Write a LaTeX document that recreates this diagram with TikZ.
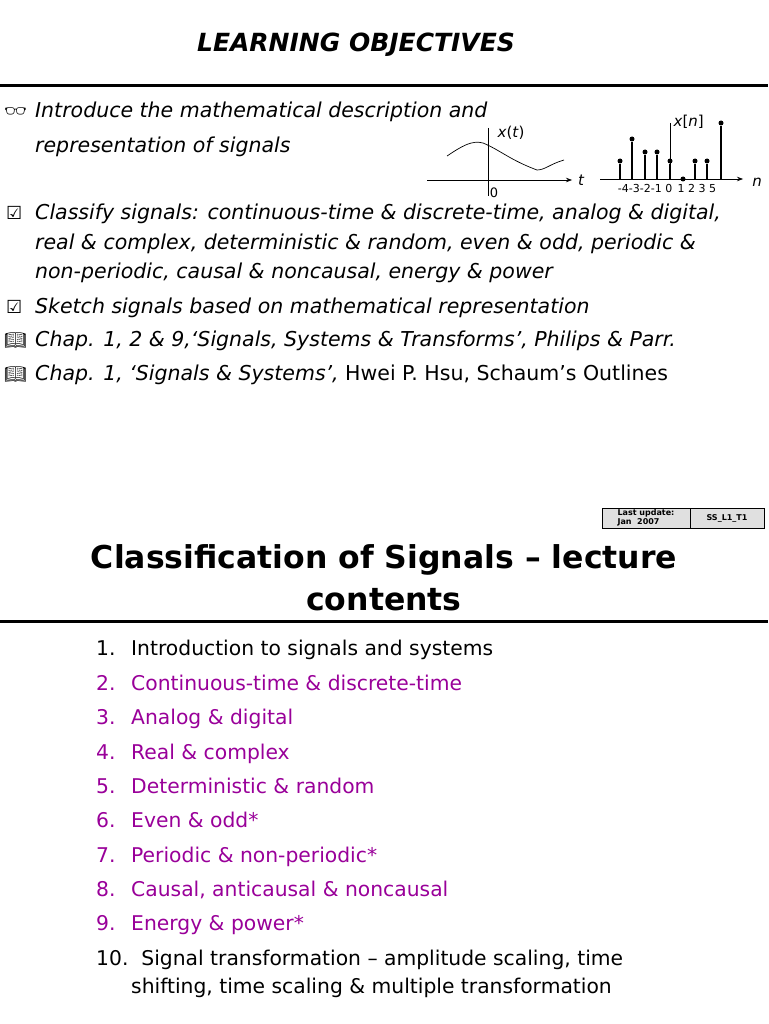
\documentclass[tikz,border=0pt]{standalone}
\usepackage{fontspec}
\setmainfont{DejaVu Sans}
\newfontfamily\emo{Noto Emoji}
\newfontfamily\djv{DejaVu Sans}
\usetikzlibrary{arrows.meta}
\definecolor{purp}{HTML}{990099}
\begin{document}
\begin{tikzpicture}[x=1pt,y=-1pt,
  txt/.style={anchor=base west,inner sep=0pt,font=\fontsize{20.5}{22}\selectfont\itshape},
  lst/.style={anchor=base west,inner sep=0pt,font=\fontsize{20.3}{22}\selectfont},
  ico/.style={anchor=base west,inner sep=0pt,font=\fontsize{18}{20}\selectfont},
  stem/.style={line width=1.6pt},
  dot/.style={circle,fill=black,inner sep=0pt,minimum size=5pt},
  ax/.style={line width=0.7pt,-{Stealth[length=6pt]}}]
\useasboundingbox (0,0) rectangle (768,1024);
\node[font=\fontsize{25}{28}\selectfont\bfseries\itshape] (t1) at (356,45) {LEARNING OBJECTIVES};
\draw[line width=3pt] (0,86) -- (768,86);
\node[ico] (i1) at (4,118) {\emo 👓};
\node[txt] (l1) at (35,118) {Introduce the mathematical description and};
\node[txt] (l2) at (35,153) {representation of signals};
\node[ico] (i2) at (6,220) {\djv ☑};
\node[txt] (l3) at (35,220) {Classify signals: continuous-time \& discrete-time, analog \& digital,};
\node[txt] (l4) at (35,249) {real \& complex, deterministic \& random, even \& odd, periodic \&};
\node[txt] (l5) at (35,278) {non-periodic, causal \& noncausal, energy \& power};
\node[ico] (i3) at (6,313) {\djv ☑};
\node[txt] (l6) at (35,313) {Sketch signals based on mathematical representation};
\node[ico] (i4) at (4,346) {\emo 📖};
\node[txt] (l7) at (35,346) {Chap. 1, 2 \& 9,‘Signals, Systems \& Transforms’, Philips \& Parr.};
\node[ico] (i5) at (4,380) {\emo 📖};
\node[txt] (l8) at (35,380) {Chap. 1, ‘Signals \& Systems’, \upshape Hwei P. Hsu, Schaum’s Outlines};
% continuous plot
\coordinate (ca) at (427,180); \coordinate (cb) at (572,180);
\draw[ax] (ca) -- (cb);
\coordinate (va) at (488,128); \coordinate (vb) at (488,196);
\draw[line width=0.7pt] (va) -- (vb);
\draw[line width=0.7pt] (447,156) .. controls (462,146) and (472,140) .. (483,143) .. controls (500,150) and (510,160) .. (537,170) .. controls (545,170) and (550,164) .. (564,160);
\node[font=\fontsize{15}{17}\selectfont,anchor=west] (xt) at (494,133) {\textit{x}(\textit{t})};
\node[font=\fontsize{15}{17}\selectfont\itshape] (tl) at (581,180) {t};
\node[font=\fontsize{13}{15}\selectfont] (z0) at (494,193) {0};
% discrete plot
\coordinate (da) at (600,179); \coordinate (db) at (743,179);
\draw[ax] (da) -- (db);
\foreach \x/\h [count=\i] in {620/161,632/139,645/152,657/152,670/161,695/161,707/161,721/123}{
  \coordinate (s\i) at (\x,179); \node[dot] (d\i) at (\x,\h) {};
  \draw[stem] (s\i) -- (d\i);}
\node[dot] (d0) at (683,179) {};
\coordinate (xa) at (670,123);
\draw[line width=0.7pt] (xa) -- (s5);
\node[font=\fontsize{15}{17}\selectfont,anchor=west] (xn) at (670,122) {\textit{x}[\textit{n}]};
\node[font=\fontsize{15}{17}\selectfont\itshape] (nl) at (757,182) {n};
\node[font=\fontsize{11}{13}\selectfont] (tk) at (667,188) {-4-3-2-1 0 \,1 2 3 5};
% box
\draw[fill=black!12,line width=0.8pt] (602,508) rectangle (764,528);
\draw[line width=0.8pt] (690,508) -- (690,528);
\node[font=\fontsize{8}{7}\selectfont\bfseries,align=left] (lu) at (646,518) {Last update:\\Jan\ \ 2007};
\node[font=\fontsize{8}{9}\selectfont\bfseries] (ss) at (727,518) {SS\_L1\_T1};
% second title
\node[font=\fontsize{31.5}{42}\selectfont\bfseries,align=center] (t2) at (384,578) {Classification of Signals – lecture\\contents};
\draw[line width=3pt] (0,621) -- (768,621);
\foreach \n/\t/\c/\y in {1./Introduction to signals and systems/black/655,
 2./Continuous-time \& discrete-time/purp/690,
 3./Analog \& digital/purp/724,
 4./Real \& complex/purp/759,
 5./Deterministic \& random/purp/793,
 6./Even \& odd*/purp/827,
 7./Periodic \& non-periodic*/purp/862,
 8./{Causal, anticausal \& noncausal}/purp/896,
 9./Energy \& power*/purp/930}{
  \node[lst,text=\c] at (96,\y) {\n};
  \node[lst,text=\c] at (131,\y) {\t};}
\node[lst] (n10) at (96,965) {10.\ \ Signal transformation – amplitude scaling, time};
\node[lst] (n10b) at (131,993) {shifting, time scaling \& multiple transformation};
\end{tikzpicture}
\end{document}
